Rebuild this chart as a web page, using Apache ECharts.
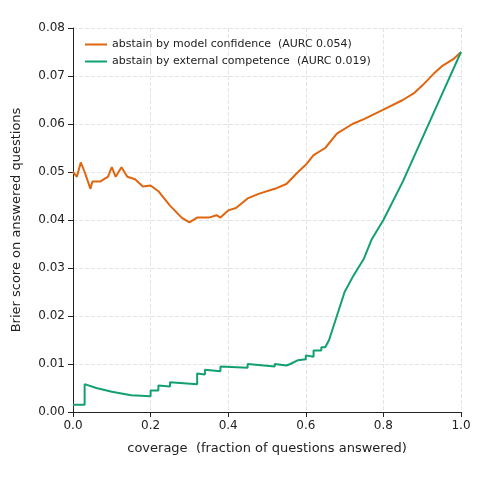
<!DOCTYPE html>
<html><head><meta charset="utf-8">
<script src="https://cdn.jsdelivr.net/npm/echarts@6/dist/echarts.min.js"></script>
<style>html,body{margin:0;background:#fff}#c{width:488px;height:485px}</style>
</head><body><div id="c"></div>
<script>
// coverage, brier score pairs
var confX = [0,0.01,0.02,0.03,0.045,0.05,0.07,0.08,0.09,0.10,0.11,0.125,0.14,0.16,0.18,0.2,0.22,0.25,0.28,0.30,0.32,0.35,0.37,0.38,0.40,0.42,0.45,0.48,0.52,0.55,0.58,0.6,0.62,0.65,0.68,0.72,0.75,0.8,0.85,0.88,0.9,0.93,0.95,0.98,1.0];
var confY = [0.050,0.049,0.052,0.050,0.0465,0.048,0.048,0.0485,0.049,0.051,0.049,0.051,0.049,0.0485,0.047,0.0472,0.046,0.043,0.0405,0.0395,0.0405,0.0405,0.041,0.0405,0.042,0.0425,0.0445,0.0455,0.0465,0.0475,0.050,0.0515,0.0535,0.055,0.058,0.060,0.061,0.063,0.065,0.0665,0.068,0.0705,0.072,0.0735,0.075];
var compX = [0,0.03,0.03,0.06,0.1,0.15,0.2,0.2,0.22,0.22,0.25,0.25,0.32,0.32,0.34,0.34,0.38,0.38,0.45,0.45,0.52,0.52,0.55,0.56,0.58,0.6,0.6,0.62,0.62,0.64,0.64,0.65,0.66,0.68,0.7,0.72,0.75,0.77,0.8,0.85,0.9,0.95,1.0];
var compY = [0.0015,0.0015,0.0058,0.0050,0.0042,0.0035,0.0033,0.0045,0.0045,0.0055,0.0053,0.0062,0.0058,0.0080,0.0078,0.0088,0.0085,0.0095,0.0092,0.0100,0.0095,0.0100,0.0097,0.0100,0.0108,0.0110,0.0118,0.0115,0.0128,0.0128,0.0135,0.0135,0.015,0.020,0.025,0.028,0.032,0.036,0.040,0.048,0.057,0.066,0.075];

function pairs(xs, ys){ return xs.map(function(x, i){ return [x, ys[i]]; }); }

var chart = echarts.init(document.getElementById('c'));
var font = 'DejaVu Sans';
chart.setOption({
    animation: false,
    grid: {left: 73, right: 27, top: 28, bottom: 73},
    legend: {
        left: 80, top: 34, orient: 'vertical', itemGap: 6, itemWidth: 22, itemHeight: 2,
        icon: 'rect',
        textStyle: {fontFamily: font, fontSize: 11, color: '#222'},
        data: ['abstain by model confidence  (AURC 0.054)', 'abstain by external competence  (AURC 0.019)']
    },
    xAxis: {
        type: 'value', min: 0, max: 1, interval: 0.2,
        name: 'coverage  (fraction of questions answered)', nameLocation: 'middle', nameGap: 30,
        nameTextStyle: {fontFamily: font, fontSize: 13, color: '#222'},
        axisLine: {lineStyle: {color: '#222'}},
        axisTick: {show: true, lineStyle: {color: '#222'}},
        axisLabel: {fontFamily: font, fontSize: 12, color: '#222', formatter: function(v){ return v.toFixed(1); }},
        splitLine: {lineStyle: {color: '#e4e4e4', type: 'dashed'}}
    },
    yAxis: {
        type: 'value', min: 0, max: 0.08, interval: 0.01,
        name: 'Brier score on answered questions', nameLocation: 'middle', nameGap: 50,
        nameTextStyle: {fontFamily: font, fontSize: 13, color: '#222'},
        axisLine: {show: true, lineStyle: {color: '#222'}},
        axisTick: {show: true, lineStyle: {color: '#222'}},
        axisLabel: {fontFamily: font, fontSize: 12, color: '#222', formatter: function(v){ return v.toFixed(2); }},
        splitLine: {lineStyle: {color: '#e4e4e4', type: 'dashed'}}
    },
    series: [
        {name: 'abstain by model confidence  (AURC 0.054)', type: 'line', data: pairs(confX, confY),
         showSymbol: false, color: '#e0650f', lineStyle: {width: 2}},
        {name: 'abstain by external competence  (AURC 0.019)', type: 'line', data: pairs(compX, compY),
         showSymbol: false, color: '#13a070', lineStyle: {width: 2}}
    ]
});
</script></body></html>
